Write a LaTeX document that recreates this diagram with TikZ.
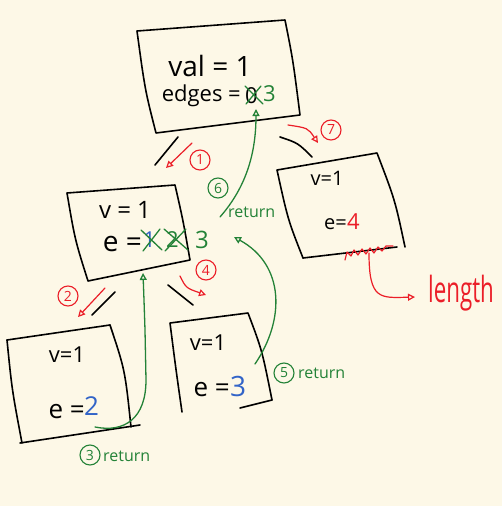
\documentclass[tikz,border=0pt]{standalone}
\usepackage{fontspec}
\setmainfont{Open Sans}
\usetikzlibrary{arrows.meta,decorations.pathmorphing}
\definecolor{bg}{RGB}{253,248,231}
\definecolor{pgreen}{RGB}{35,130,55}
\definecolor{pred}{RGB}{235,30,40}
\definecolor{pblue}{RGB}{50,100,200}
\begin{document}
\begin{tikzpicture}[x=1pt,y=-1pt,
 box/.style={draw=black,line width=1.6pt,line join=round,line cap=round},
 ink/.style={line width=1.6pt,line cap=round},
 tx/.style={inner sep=0pt,font=\fontsize{22}{24}\selectfont},
 circ/.style={circle,draw,line width=1.1pt,inner sep=1pt,minimum size=20pt,font=\fontsize{14}{14}\selectfont},
 ret/.style={text=pgreen,inner sep=0pt,font=\fontsize{16}{16}\selectfont},
 tri/.style={-{Triangle[open,length=7pt,width=7pt]}},
 strike/.style={draw=pgreen,line width=1.3pt,line cap=round}
]
\fill[bg] (0,0) rectangle (502,506);
\useasboundingbox (0,0) rectangle (502,506);

% ---- box corners
\coordinate (a1) at (137,31); \coordinate (a2) at (285,20);
\coordinate (a3) at (300,115); \coordinate (a4) at (156,133);
\coordinate (b1) at (67,193); \coordinate (b2) at (175,185);
\coordinate (b3) at (190,260); \coordinate (b4) at (88,281);
\coordinate (c1) at (277,170); \coordinate (c2) at (377,153);
\coordinate (c3) at (405,247); \coordinate (c4) at (303,258);
\coordinate (d1) at (7,340); \coordinate (d2) at (110,325);
\coordinate (d3) at (138,426); \coordinate (d4) at (22,443);
\coordinate (e1) at (170,323); \coordinate (e2) at (248,313);
\coordinate (e3) at (272,400); \coordinate (e4) at (182,412);

% ---- boxes
\draw[box] (a4) .. controls (145,90) .. (a1) -- (a2) .. controls (293,60) .. (a3) -- (a4);
\draw[box] (b4) .. controls (75,240) .. (b1) -- (b2) .. controls (183,220) .. (b3) -- (b4);
\draw[box] (c4) .. controls (288,220) .. (c1) -- (c2) .. controls (395,200) .. (c3);
\draw[box] (c4) -- (397,247);
\draw[box] (d4) .. controls (12,390) .. (d1) (d2) .. controls (125,370) .. (131,427);
\draw[box] (d1) -- (d2) (20,443) -- (140,425);
\draw[box] (e1) .. controls (176,370) .. (e4) (e1) -- (e2) .. controls (262,350) .. (e3);
\draw[box] (240,408) -- (e3);

% ---- texts
\node[tx,font=\fontsize{28}{30}\selectfont] (t1) at (210,66) {val = 1};
\node[tx,anchor=east] (t2) at (241,96) {edges =};
\node[tx,anchor=west] (t2z) at (245,96) {0};
\draw[strike] (245,86) -- (263,104) (261,86) -- (246,104);
\node[tx,anchor=west,text=pgreen] (t2t) at (263,94) {3};

\node[tx,font=\fontsize{24}{26}\selectfont] (m1) at (125,210) {v = 1};
\node[tx,anchor=east,font=\fontsize{28}{30}\selectfont] (m2) at (142,244) {e =};
\node[tx,anchor=west,text=pblue] (m2a) at (143,240) {1};
\draw[strike] (141,230) -- (162,250) (160,229) -- (143,251);
\node[tx,anchor=west,text=pgreen] (m2b) at (166,240) {2};
\draw[strike] (164,229) -- (188,250) (186,229) -- (165,251);
\node[tx,anchor=west,text=pgreen,font=\fontsize{24}{26}\selectfont] (m2c) at (195,240) {3};

\node[tx,font=\fontsize{20}{22}\selectfont] (r1) at (327,178) {v=1};
\node[tx,anchor=east,font=\fontsize{20}{22}\selectfont] (r2) at (347,224) {e=};
\node[tx,anchor=west,text=pred,font=\fontsize{22}{24}\selectfont] (r2a) at (347,222) {4};

\node[tx] (l1) at (67,355) {v=1};
\node[tx,anchor=east,font=\fontsize{26}{28}\selectfont] (l2) at (85,412) {e =};
\node[tx,anchor=west,text=pblue,font=\fontsize{26}{28}\selectfont] (l2a) at (84,406) {2};

\node[tx] (n1) at (208,343) {v=1};
\node[tx,anchor=east,font=\fontsize{26}{28}\selectfont] (n2) at (230,390) {e =};
\node[tx,anchor=west,text=pblue,font=\fontsize{28}{30}\selectfont] (n2a) at (230,386) {3};

% ---- tree edges (black)
\coordinate (ea1) at (178,137); \coordinate (ea2) at (155,165);
\coordinate (eb1) at (280,137); \coordinate (eb2) at (312,157);
\coordinate (ec1) at (115,292); \coordinate (ec2) at (92,315);
\coordinate (ed1) at (168,285); \coordinate (ed2) at (193,305);
\draw[ink] (ea1) -- (ea2);
\draw[ink] (eb1) .. controls (298,143) .. (eb2);
\draw[ink] (ec1) -- (ec2);
\draw[ink] (ed1) -- (ed2);

% ---- red steps
\coordinate (s1a) at (192,143); \coordinate (s1b) at (166,168);
\coordinate (s2a) at (105,288); \coordinate (s2b) at (78,317);
\coordinate (s4a) at (180,276); \coordinate (s4b) at (206,295);
\coordinate (s7a) at (288,125); \coordinate (s7b) at (318,143);
\draw[pred,ink,line width=1.2pt,tri] (s1a) -- (s1b);
\draw[pred,ink,line width=1.2pt,tri] (s2a) -- (s2b);
\draw[pred,ink,line width=1.2pt,tri] (s4a) .. controls (186,288) .. (s4b);
\draw[pred,ink,line width=1.2pt,tri] (s7a) .. controls (308,128) .. (s7b);
\node[circ,pred] (c1n) at (200,160) {1};
\node[circ,pred] (c2n) at (68,296) {2};
\node[circ,pred] (c4n) at (206,270) {4};
\node[circ,pred] (c7n) at (331,130) {7};

% ---- length annotation
\draw[pred,line width=1.2pt,line cap=round,line join=round]
  (345,260) -- (347,252) -- (351,256) -- (354,250) -- (358,255) -- (362,249) -- (366,254)
  -- (370,248) -- (374,253) -- (378,247) -- (382,251) -- (386,246) -- (393,246);
\coordinate (la) at (369,253);
\node[inner sep=0pt,text=pred,font=\fontsize{36}{38}\selectfont] (len) at (461,293) {\scalebox{0.62}[1]{length}};
\coordinate (lb) at (415,297);
\draw[pred,line width=1.2pt,line cap=round,tri] (la) .. controls (369,300) and (380,298) .. (lb);

% ---- green returns
\coordinate (g3a) at (95,427); \coordinate (g3b) at (143,273);
\draw[pgreen,line width=1.3pt,line cap=round,tri] (g3a) .. controls (125,433) and (146,418) .. (146,380) -- (145,330) .. controls (144,300) .. (g3b);
\node[circ,pgreen] (c3n) at (90,455) {3};
\node[ret,anchor=west] (r3) at (103,456) {return};

\coordinate (g5a) at (255,364); \coordinate (g5b) at (234,237);
\draw[pgreen,line width=1.3pt,line cap=round,tri] (g5a) .. controls (285,320) and (285,265) .. (g5b);
\node[circ,pgreen] (c5n) at (284,373) {5};
\node[ret,anchor=west] (r5) at (298,373) {return};

\coordinate (g6a) at (220,217); \coordinate (g6b) at (256,109);
\draw[pgreen,line width=1.3pt,line cap=round,tri] (g6a) .. controls (248,185) and (256,150) .. (g6b);
\node[circ,pgreen] (c6n) at (218,188) {6};
\node[ret,anchor=west] (r6) at (228,212) {return};
\end{tikzpicture}
\end{document}
